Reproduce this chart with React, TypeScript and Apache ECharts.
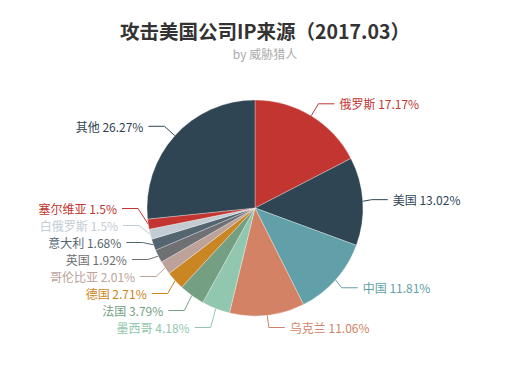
import React, { useEffect, useRef } from "react";
import * as echarts from "echarts";

const titleText = "攻击美国公司IP来源（2017.03）";
const subText = "by 威胁猎人";
const categories = ["俄罗斯", "美国", "中国", "乌克兰", "墨西哥", "法国", "德国", "哥伦比亚", "英国", "意大利", "白俄罗斯", "塞尔维亚", "其他"];
const values = [17.17, 13.02, 11.81, 11.06, 4.18, 3.79, 2.71, 2.01, 1.92, 1.68, 1.5, 1.5, 26.27];
const palette = ["#c23531", "#2f4554", "#61a0a8", "#d48265", "#91c7ae", "#749f83", "#ca8622", "#bda29a", "#6e7074", "#546570", "#c4ccd3"];

export default function App() {
  const ref = useRef<HTMLDivElement>(null);
  useEffect(() => {
    const chart = echarts.init(ref.current!, null, { renderer: "svg" });
    const data = categories.map((name, i) => {
      const c = palette[i % palette.length];
      return {
        name,
        value: values[i],
        itemStyle: { color: c },
        label: { color: c },
        labelLine: { lineStyle: { color: c } },
      };
    });
    chart.setOption({
      animation: false,
      title: {
        text: titleText,
        subtext: subText,
        left: "center",
        top: 8,
        itemGap: 7,
        textStyle: { fontSize: 19.5, fontWeight: "bold", color: "#333", fontFamily: "Noto Sans CJK SC" },
        subtextStyle: { fontSize: 12, color: "#aaa", fontFamily: "Noto Sans CJK SC" },
      },
      series: [
        {
          type: "pie",
          left: 0,
          top: 0,
          width: 514,
          height: 328,
          center: [247, 200],
          radius: [0, 108],
          startAngle: 90,
          data,
          itemStyle: { borderColor: "rgba(255,255,255,0.6)", borderWidth: 0.5 },
          label: {
            show: true,
            formatter: (p: any) => `${p.name} ${p.value}%`,
            fontSize: 12,
            lineHeight: 15,
            fontFamily: "Noto Sans CJK SC",
          },
          labelLine: { show: true, length: 14, length2: 16 },
        },
      ],
    });
    return () => chart.dispose();
  }, []);
  return <div ref={ref} style={{ width: 514, height: 358 }} />;
}
